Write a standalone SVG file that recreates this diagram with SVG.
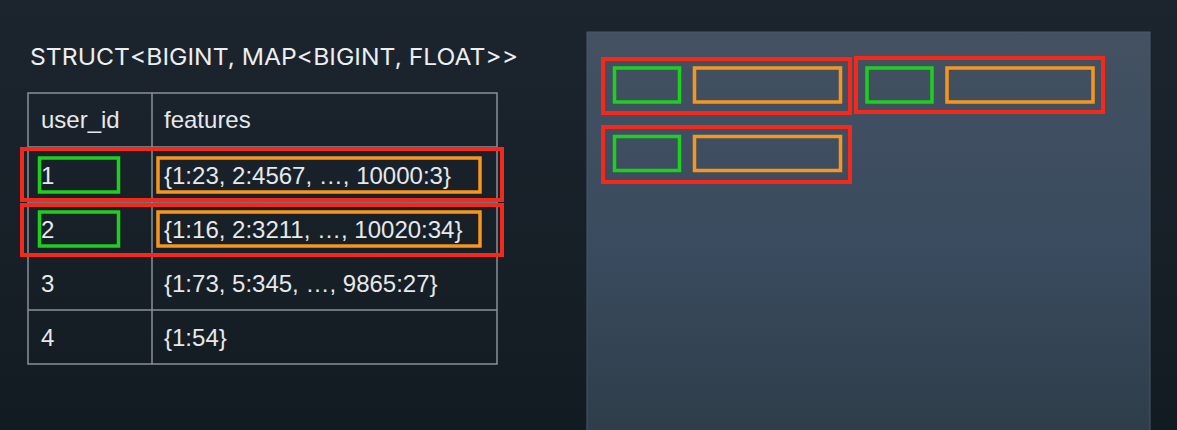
<svg xmlns="http://www.w3.org/2000/svg" width="1177" height="430" viewBox="0 0 1177 430">
<defs>
<linearGradient id="bg" x1="0" y1="0" x2="0" y2="1">
<stop offset="0" stop-color="#1c252e"/>
<stop offset="1" stop-color="#131b22"/>
</linearGradient>
<linearGradient id="panel" x1="0" y1="0" x2="0" y2="1">
<stop offset="0" stop-color="#435161"/>
<stop offset="0.55" stop-color="#3a4b5f"/>
<stop offset="1" stop-color="#2e3d49"/>
</linearGradient>
<style>
.t{font-family:"Liberation Sans",Arial,sans-serif;font-size:24px;fill:#e6e8ea}
.title{font-family:Inter,"Liberation Sans",sans-serif;font-size:23px;fill:#eceef0}
.grid{stroke:#8a9098;stroke-width:1.5;fill:none}
.red{fill:none;stroke:#f5281a;stroke-width:4}
.green{fill:none;stroke:#1ecf1e;stroke-width:3.5}
.orange{fill:none;stroke:#f7961e;stroke-width:3.5}
</style>
</defs>
<rect width="1177" height="430" fill="url(#bg)"/>
<g id="title"><text class="title" x="30" y="65" textLength="488" lengthAdjust="spacingAndGlyphs">STRUCT&lt;BIGINT, MAP&lt;BIGINT, FLOAT&gt;&gt;</text></g>
<g id="table">
<rect class="grid" x="28" y="93" width="469" height="271"/>
<line class="grid" x1="152" y1="93" x2="152" y2="364"/>
<line class="grid" x1="28" y1="147" x2="497" y2="147"/>
<line class="grid" x1="28" y1="202" x2="497" y2="202"/>
<line class="grid" x1="28" y1="256" x2="497" y2="256"/>
<line class="grid" x1="28" y1="310" x2="497" y2="310"/>
<text class="t" x="41" y="128">user_id</text>
<text class="t" x="164" y="128">features</text>
<text class="t" x="41" y="184">1</text>
<text class="t" x="164" y="184">{1:23, 2:4567, …, 10000:3}</text>
<text class="t" x="41" y="238">2</text>
<text class="t" x="164" y="238">{1:16, 2:3211, …, 10020:34}</text>
<text class="t" x="41" y="292">3</text>
<text class="t" x="164" y="292">{1:73, 5:345, …, 9865:27}</text>
<text class="t" x="41" y="346">4</text>
<text class="t" x="164" y="346">{1:54}</text>
</g>
<g id="row1-highlight">
<rect class="red" x="22" y="149" width="480" height="51"/>
<rect class="green" x="39.5" y="158" width="79" height="34"/>
<rect class="orange" x="158" y="158" width="322" height="34"/>
</g>
<g id="row2-highlight">
<rect class="red" x="22" y="205" width="480" height="50"/>
<rect class="green" x="39.5" y="212" width="79" height="34"/>
<rect class="orange" x="158" y="212" width="322" height="34"/>
</g>
<g id="panel">
<rect x="587" y="32" width="563" height="400" fill="url(#panel)" stroke="#4a5868" stroke-width="1"/>
</g>
<g id="packed-row1">
<rect class="red" x="603" y="59" width="247" height="54"/>
<rect class="green" x="614.5" y="68" width="65" height="34"/>
<rect class="orange" x="694.5" y="68" width="146" height="34"/>
</g>
<g id="packed-row2">
<rect class="red" x="856" y="58" width="247" height="54"/>
<rect class="green" x="867" y="68" width="65" height="34"/>
<rect class="orange" x="947" y="68" width="146" height="34"/>
</g>
<g id="packed-row3">
<rect class="red" x="603" y="127" width="247" height="55"/>
<rect class="green" x="614.5" y="136.5" width="65" height="34"/>
<rect class="orange" x="694.5" y="136.5" width="146" height="34"/>
</g>
<g id="connectors"/>
</svg>
